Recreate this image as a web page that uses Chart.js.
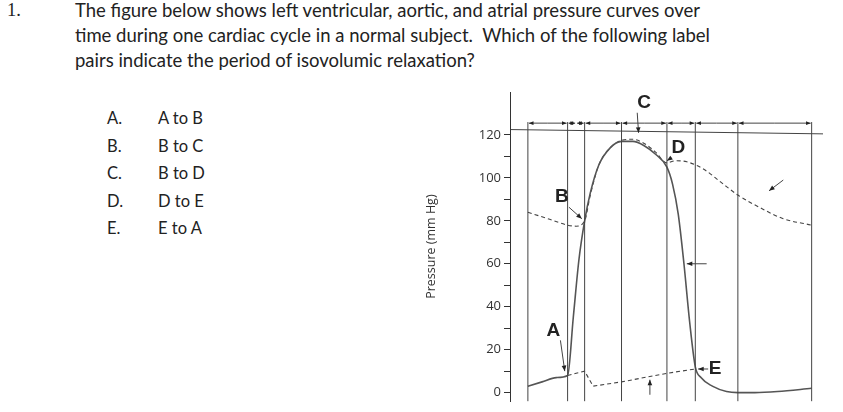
<!DOCTYPE html>
<html><head><meta charset="utf-8">
<script src="https://cdn.jsdelivr.net/npm/chart.js@4"></script>
<style>
body{margin:0;width:843px;height:412px;background:#fff;position:relative;overflow:hidden;font-family:Lato,"Liberation Sans",sans-serif;color:#222}
.q{position:absolute;font-size:18.5px;line-height:25px;white-space:nowrap}
.opt{position:absolute;font-size:16.5px}
#wrap{position:absolute;left:420px;top:80px;width:403px;height:332px}
</style></head><body>
<div class="q" style="left:7px;top:-2px;font-family:'Liberation Serif',serif">1.</div>
<div class="q" style="left:75px;top:-2px">The figure below shows left ventricular, aortic, and atrial pressure curves over<br>time during one cardiac cycle in a normal subject.&nbsp; Which of the following label<br>pairs indicate the period of isovolumic relaxation?</div>
<div id="opts"></div>
<div id="wrap"><canvas id="c"></canvas></div>
<script>
const optLetters = ['A.', 'B.', 'C.', 'D.', 'E.'];
const optTexts = ['A to B', 'B to C', 'B to D', 'D to E', 'E to A'];

const yTicks = [0, 10, 20, 30, 40, 50, 60, 70, 80, 90, 100, 110, 120];
const phaseLines = [0, 14, 20, 33, 49, 59, 74, 100];
const lvTime = [0, 5, 10, 14, 16, 18, 20, 22, 25, 29, 33, 37, 41, 45, 49, 51, 53, 55, 57, 59, 61, 65, 70, 74, 80, 88, 100];
const lvPressure = [3, 5, 7, 8, 35, 62, 80, 93, 106, 114, 117, 117, 115, 111, 105, 97, 83, 60, 33, 12, 7, 3, 0.5, 0, 0, 0.5, 2];
const aoTime = [0, 7, 14, 17, 20, 22, 25, 29, 33, 37, 41, 45, 49, 52, 56, 62, 68, 74, 82, 90, 100];
const aoPressure = [84, 81, 78, 77.5, 80, 92, 106, 114, 117.5, 118, 116, 112, 107, 108, 107.5, 104, 98, 92, 86, 81, 78];
const atTime = [14, 17, 20, 23, 33, 41, 49, 54, 59];
const atPressure = [8, 9, 10, 3, 5, 7, 9, 10, 11];
const labelMarks = [
  {t: 'A', x: 9, y: 29, ax: 13, ay: 10},
  {t: 'B', x: 12, y: 91, ax: 19, ay: 81},
  {t: 'C', x: 41, y: 135, ax: 39, ay: 121},
  {t: 'D', x: 53, y: 114, ax: 49, ay: 108},
  {t: 'E', x: 66, y: 11, ax: 60, ay: 11}
];
const sideArrows = [
  {x1: 63, y1: 60, x2: 56, y2: 60},
  {x1: 90, y1: 99, x2: 85, y2: 94},
  {x1: 43, y1: -1, x2: 43, y2: 6}
];
const spanTops = [0, 14, 17, 20, 33, 49, 59, 74, 100];

const opts = document.getElementById('opts');
optLetters.forEach((l, i) => {
  const y = 108 + i * 27.5;
  opts.insertAdjacentHTML('beforeend',
    `<div class="opt" style="left:107px;top:${y}px">${l}</div><div class="opt" style="left:158px;top:${y}px">${optTexts[i]}</div>`);
});

function arrow(ctx, x1, y1, x2, y2, h) {
  const a = Math.atan2(y2 - y1, x2 - x1);
  ctx.beginPath(); ctx.moveTo(x1, y1); ctx.lineTo(x2, y2); ctx.stroke();
  ctx.beginPath(); ctx.moveTo(x2, y2);
  ctx.lineTo(x2 - h * Math.cos(a - 0.4), y2 - h * Math.sin(a - 0.4));
  ctx.lineTo(x2 - h * Math.cos(a + 0.4), y2 - h * Math.sin(a + 0.4));
  ctx.closePath(); ctx.fill();
}

const decor = {
  id: 'decor',
  afterDatasetsDraw(chart) {
    const {ctx, scales: {x, y}} = chart;
    ctx.save();
    ctx.strokeStyle = '#444'; ctx.fillStyle = '#222'; ctx.lineWidth = 1;
    phaseLines.forEach(p => {
      ctx.beginPath(); ctx.moveTo(x.getPixelForValue(p), y.getPixelForValue(126)); ctx.lineTo(x.getPixelForValue(p), y.getPixelForValue(-4)); ctx.stroke();
    });
    ctx.beginPath(); ctx.moveTo(x.getPixelForValue(-6), y.getPixelForValue(122.5)); ctx.lineTo(x.getPixelForValue(104), y.getPixelForValue(120.5)); ctx.stroke();
    const ay = y.getPixelForValue(125.5);
    for (let i = 0; i < spanTops.length - 1; i++) {
      const a = x.getPixelForValue(spanTops[i]) + 1, b = x.getPixelForValue(spanTops[i + 1]) - 1, m = (a + b) / 2;
      arrow(ctx, m, ay, a, ay, 5); arrow(ctx, m, ay, b, ay, 5);
    }
    ctx.font = 'bold 19px "Liberation Sans", Arial, sans-serif';
    ctx.textAlign = 'center'; ctx.textBaseline = 'middle';
    labelMarks.forEach(m => {
      ctx.fillText(m.t, x.getPixelForValue(m.x), y.getPixelForValue(m.y));
      const sx = x.getPixelForValue(m.x) + (m.ax > m.x ? 7 : m.ax < m.x ? -7 : 0);
      const sy = y.getPixelForValue(m.y) + (m.ay < m.y ? 10 : 0);
      arrow(ctx, sx, sy, x.getPixelForValue(m.ax), y.getPixelForValue(m.ay), 6);
    });
    sideArrows.forEach(s => arrow(ctx, x.getPixelForValue(s.x1), y.getPixelForValue(s.y1), x.getPixelForValue(s.x2), y.getPixelForValue(s.y2), 6));
    ctx.restore();
  }
};

new Chart(document.getElementById('c'), {
  type: 'line',
  data: {
    datasets: [
      {data: lvTime.map((t, i) => ({x: t, y: lvPressure[i]})), borderColor: '#555', borderWidth: 1.6, cubicInterpolationMode: 'monotone'},
      {data: aoTime.map((t, i) => ({x: t, y: aoPressure[i]})), borderColor: '#444', borderWidth: 1.1, borderDash: [4, 3], cubicInterpolationMode: 'monotone'},
      {data: atTime.map((t, i) => ({x: t, y: atPressure[i]})), borderColor: '#444', borderWidth: 1.1, borderDash: [4, 3], tension: 0}
    ]
  },
  options: {
    responsive: true, maintainAspectRatio: false, animation: false,
    elements: {point: {radius: 0}},
    layout: {padding: {top: 12, bottom: 9, right: 0, left: 0}},
    plugins: {legend: {display: false}, tooltip: {enabled: false}},
    scales: {
      x: {type: 'linear', min: -6.3, max: 104, display: false},
      y: {
        min: -4, max: 140,
        afterFit(s) { s.width = 90; },
        afterBuildTicks(s) { s.ticks = yTicks.map(v => ({value: v})); },
        border: {color: '#333'},
        grid: {drawOnChartArea: false, tickLength: 6, color: '#333'},
        ticks: {color: '#333', font: {size: 13, family: 'Open Sans'},
          callback: v => v % 20 === 0 ? v : ''},
        title: {display: true, text: 'Pressure (mm Hg)', color: '#333', font: {size: 12.5, family: 'Open Sans'}, padding: {bottom: 12}}
      }
    }
  },
  plugins: [decor]
});
</script>
</body></html>
